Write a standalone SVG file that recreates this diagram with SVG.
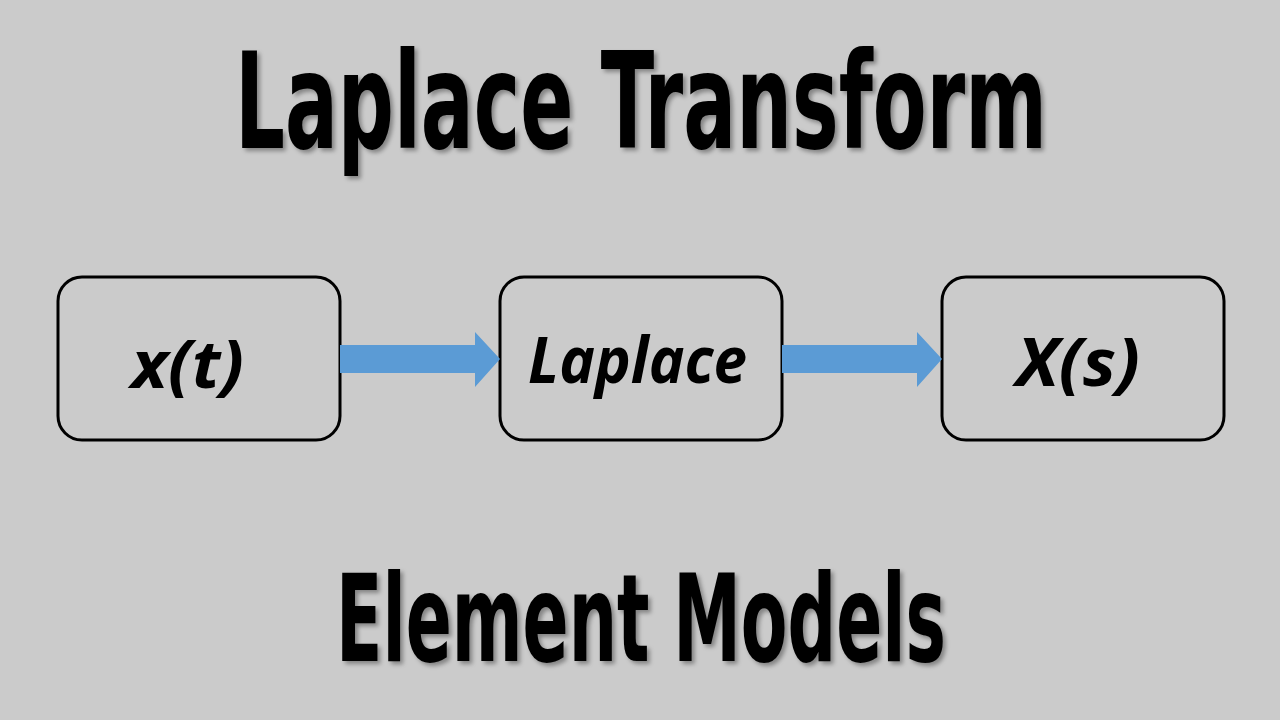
<svg xmlns="http://www.w3.org/2000/svg" width="1280" height="720" viewBox="0 0 1280 720">
<defs>
<filter id="sh" filterUnits="userSpaceOnUse" x="0" y="0" width="1280" height="720">
<feDropShadow dx="3" dy="3" stdDeviation="2" flood-color="#000" flood-opacity="0.35"/>
</filter>
</defs>
<style>
.title{font-family:"DejaVu Sans Condensed","DejaVu Sans",sans-serif;font-weight:bold;fill:#000}
.box{fill:none;stroke:#000;stroke-width:3}
.lbl{font-family:"Open Sans","Noto Sans",sans-serif;font-weight:bold;font-style:italic;fill:#000;text-anchor:start}
.arrow{fill:#5b9bd5}
</style>
<rect width="1280" height="720" fill="#cbcbcb"/>
<g id="title" filter="url(#sh)">
<text class="title" transform="scale(1,1.4)" x="235" y="105.7" font-size="96" textLength="812" lengthAdjust="spacingAndGlyphs">Laplace Transform</text>
</g>
<g id="subtitle" filter="url(#sh)">
<text class="title" transform="scale(1,1.4)" x="336" y="472.1" font-size="86" textLength="610" lengthAdjust="spacingAndGlyphs">Element Models</text>
</g>
<g id="node-xt">
<rect class="box" x="58" y="277" width="282" height="163" rx="24"/>
<text class="lbl" x="131" y="388" font-size="66" textLength="113" lengthAdjust="spacingAndGlyphs">x(t)</text>
</g>
<g id="node-laplace">
<rect class="box" x="500" y="277" width="282" height="163" rx="24"/>
<text class="lbl" x="528" y="383" font-size="64" textLength="219" lengthAdjust="spacingAndGlyphs">Laplace</text>
</g>
<g id="node-xs">
<rect class="box" x="942" y="277" width="282" height="163" rx="24"/>
<text class="lbl" x="1016" y="386" font-size="66" textLength="124" lengthAdjust="spacingAndGlyphs">X(s)</text>
</g>
<g id="connectors">
<polygon class="arrow" points="340,345 475,345 475,332 500,359 475,387 475,373 340,373"/>
<polygon class="arrow" points="782,345 917,345 917,332 942,359 917,387 917,373 782,373"/>
</g>
</svg>
